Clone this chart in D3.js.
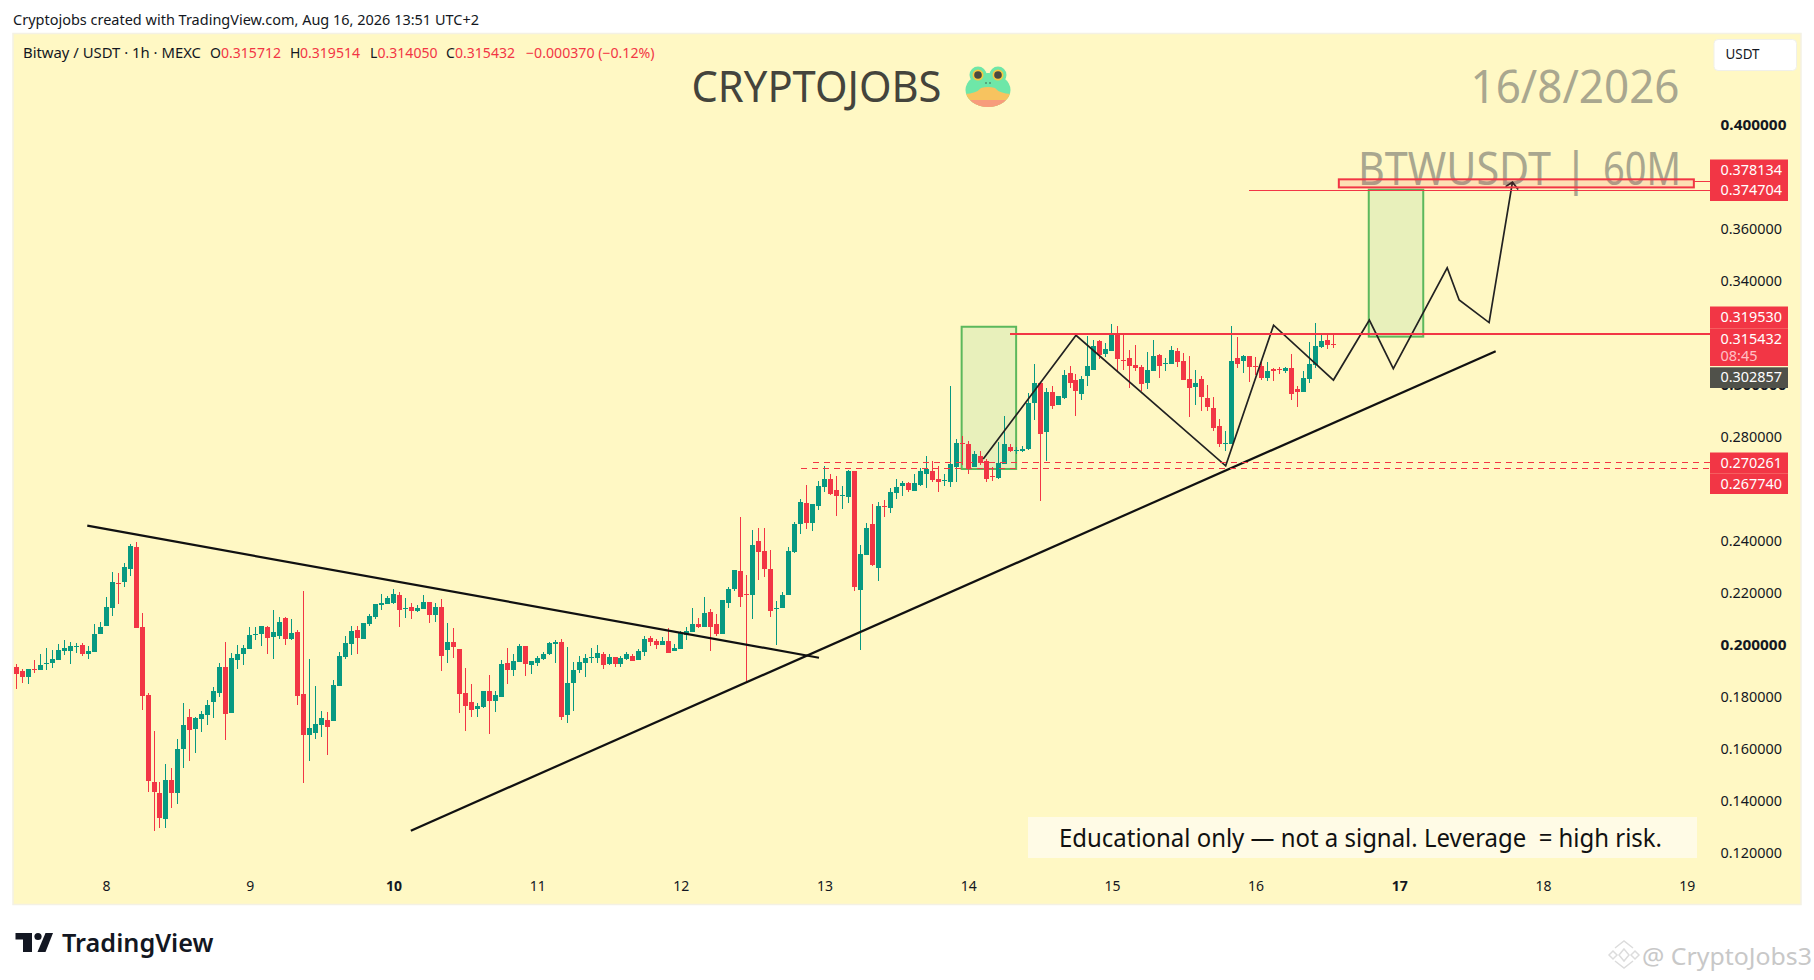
<!DOCTYPE html>
<html>
<head>
<meta charset="utf-8">
<title>BTWUSDT 60M</title>
<script src="https://cdn.jsdelivr.net/npm/d3@7/dist/d3.min.js"></script>
<style>
  html, body { margin: 0; padding: 0; background: #fff; }
  svg { display: block; }
  text { font-family: "Noto Sans", "Lato", sans-serif; }
</style>
</head>
<body>
<div id="chart"></div>
<script>
// hourly candles
var opens = [
  .1916,.1900,.1877,.1908,.1904,.1927,.1931,.1943,.1977,.1977,
  .1993,.2000,.1966,.1973,.2043,.2073,.2143,.2239,.2243,.2293,
  .2377,.2070,.1808,.1473,.1431,.1331,.1481,.1431,.1600,.1723,
  .1677,.1716,.1731,.1781,.1816,.1916,.1739,.1943,.1966,.1985,
  .2039,.2043,.2070,.2031,.2035,.2104,.2023,.2050,.1812,.1654,
  .1662,.1693,.1712,.1708,.1843,.1954,.2004,.2058,.2023,.2081,
  .2108,.2154,.2158,.2162,.2192,.2138,.2146,.2130,.2138,.2165,
  .2115,.2146,.1980,.2011,.1984,.1815,.1780,.1753,.1761,.1823,
  .1784,.1800,.1930,.1903,.1934,.1996,.1923,.1930,.1946,.1965,
  .2003,.2011,.1730,.1853,.1903,.1930,.1950,.1950,.1965,.1927,
  .1953,.1927,.1946,.1957,.1942,.1973,.2027,.2015,.2000,.2015,
  .1977,.1984,.2038,.2050,.2080,.2069,.2127,.2080,.2042,.2162,
  .2215,.2285,.2196,.2192,.2400,.2362,.2292,.2139,.2142,.2192,
  .2358,.2465,.2546,.2469,.2535,.2608,.2639,.2596,.2573,.2569,
  .2669,.2212,.2346,.2465,.2296,.2535,.2527,.2585,.2612,.2623,
  .2592,.2615,.2658,.2669,.2639,.2631,.2627,.2685,.2777,.2774,
  .2685,.2727,.2708,.2651,.2643,.2697,.2762,.2747,.2747,.2754,
  .2931,.3008,.2820,.2974,.2924,.2951,.3047,.3020,.2966,.3035,
  .3058,.3170,.3120,.3131,.3193,.3097,.3104,.3077,.3070,.3008,
  .3054,.3116,.3080,.3081,.3131,.3093,.3024,.2993,.3024,.2951,
  .2912,.2843,.2774,.2774,.3104,.3093,.3112,.3074,.3074,.3027,
  .3062,.3062,.3054,.3066,.2985,.2974,.3024,.3077,.3147,.3174,
  .315712
];
var highs = [
  .1927,.1908,.1908,.1943,.1966,.1989,.1981,.2004,.2020,.2012,
  .2008,.2008,.1996,.2081,.2089,.2185,.2281,.2277,.2316,.2389,
  .2396,.2123,.1816,.1670,.1473,.1543,.1527,.1639,.1777,.1754,
  .1723,.1746,.1789,.1839,.1931,.2012,.1970,.2000,.2000,.2070,
  .2070,.2073,.2073,.2135,.2108,.2108,.2100,.2058,.2208,.1946,
  .1843,.1746,.1743,.1866,.1973,.2035,.2073,.2073,.2085,.2120,
  .2158,.2196,.2189,.2216,.2203,.2180,.2161,.2153,.2192,.2165,
  .2161,.2177,.2084,.2065,.1984,.1911,.1850,.1777,.1823,.1884,
  .1823,.1942,.1988,.1965,.2003,.1996,.1938,.1957,.1973,.2011,
  .2019,.2023,.1992,.1934,.1957,.1965,.1988,.2000,.1973,.1965,
  .1953,.1957,.1973,.1965,.1984,.2034,.2034,.2023,.2030,.2065,
  .2003,.2053,.2069,.2142,.2103,.2184,.2138,.2119,.2173,.2223,
  .2289,.2492,.2269,.2442,.2450,.2450,.2365,.2169,.2204,.2377,
  .2473,.2562,.2615,.2542,.2631,.2689,.2658,.2650,.2612,.2673,
  .2669,.2385,.2469,.2542,.2550,.2558,.2604,.2639,.2631,.2627,
  .2658,.2681,.2727,.2708,.2689,.2658,.2997,.2793,.2804,.2785,
  .2747,.2747,.2716,.2685,.2781,.2881,.2774,.2762,.2766,.2970,
  .3081,.3008,.2989,.2997,.2958,.3058,.3074,.3043,.3035,.3189,
  .3174,.3174,.3162,.3235,.3227,.3193,.3135,.3154,.3077,.3127,
  .3174,.3120,.3104,.3151,.3143,.3124,.3112,.3058,.3035,.3001,
  .2954,.2870,.2824,.3227,.3185,.3116,.3112,.3108,.3093,.3089,
  .3066,.3070,.3070,.3120,.2997,.3054,.3166,.3239,.3197,.3193,
  .319514
];
var lows = [
  .1831,.1854,.1850,.1893,.1904,.1904,.1912,.1943,.1962,.1927,
  .1970,.1958,.1946,.1973,.2043,.2073,.2112,.2158,.2223,.2266,
  .2066,.1750,.1435,.1285,.1296,.1296,.1373,.1389,.1527,.1554,
  .1585,.1666,.1693,.1720,.1800,.1635,.1739,.1908,.1923,.1985,
  .2020,.1996,.1966,.1946,.2023,.2000,.2020,.1770,.1470,.1554,
  .1639,.1646,.1577,.1708,.1843,.1946,.1962,.1966,.2023,.2073,
  .2100,.2135,.2158,.2158,.2069,.2103,.2100,.2127,.2138,.2084,
  .2088,.1900,.1930,.1950,.1738,.1669,.1723,.1723,.1757,.1657,
  .1742,.1800,.1850,.1880,.1934,.1880,.1888,.1919,.1942,.1961,
  .1930,.1711,.1700,.1746,.1892,.1877,.1930,.1930,.1907,.1923,
  .1915,.1915,.1942,.1938,.1942,.1957,.1996,.1984,.2000,.1969,
  .1977,.1984,.2019,.2050,.2065,.2069,.1977,.2034,.2042,.2142,
  .2208,.2146,.1854,.2100,.2250,.2262,.2108,.2000,.2142,.2192,
  .2354,.2427,.2446,.2439,.2519,.2589,.2577,.2496,.2523,.2546,
  .2208,.1981,.2346,.2304,.2246,.2492,.2508,.2562,.2573,.2589,
  .2592,.2612,.2604,.2627,.2589,.2612,.2608,.2627,.2693,.2658,
  .2685,.2693,.2627,.2631,.2639,.2697,.2743,.2735,.2743,.2751,
  .2866,.2554,.2708,.2908,.2924,.2947,.2989,.2881,.2943,.2997,
  .3058,.3101,.3108,.3131,.3054,.3058,.2989,.3054,.2977,.2985,
  .3054,.3027,.3054,.3081,.3070,.3020,.2877,.2924,.2901,.2901,
  .2824,.2762,.2747,.2774,.3066,.3047,.3012,.3039,.3020,.3016,
  .3016,.3043,.3047,.2943,.2916,.2974,.3008,.3066,.3143,.3139,
  .31405
];
var closes = [
  .1889,.1877,.1908,.1904,.1923,.1931,.1946,.1981,.1989,.1996,
  .1996,.1966,.1977,.2043,.2070,.2146,.2243,.2235,.2300,.2381,
  .2066,.1804,.1477,.1435,.1335,.1481,.1431,.1600,.1693,.1673,
  .1720,.1735,.1770,.1823,.1916,.1735,.1950,.1966,.1989,.2039,
  .2043,.2073,.2027,.2050,.2089,.2023,.2046,.1804,.1654,.1681,
  .1696,.1720,.1685,.1846,.1958,.2008,.2054,.2027,.2085,.2112,
  .2158,.2162,.2181,.2196,.2134,.2142,.2130,.2142,.2165,.2115,
  .2146,.1957,.2011,.1992,.1811,.1765,.1750,.1765,.1823,.1784,
  .1807,.1927,.1903,.1938,.1996,.1927,.1938,.1950,.1965,.2007,
  .2011,.1723,.1853,.1903,.1934,.1950,.1953,.1969,.1923,.1953,
  .1927,.1950,.1965,.1938,.1977,.2023,.2011,.2000,.2015,.1969,
  .1988,.2046,.2053,.2080,.2069,.2123,.2069,.2042,.2173,.2215,
  .2289,.2185,.2192,.2385,.2358,.2292,.2131,.2142,.2192,.2362,
  .2465,.2550,.2469,.2542,.2612,.2639,.2581,.2573,.2577,.2669,
  .2223,.2350,.2450,.2308,.2535,.2531,.2589,.2608,.2623,.2596,
  .2623,.2669,.2677,.2635,.2627,.2635,.2697,.2777,.2774,.2681,
  .2735,.2704,.2639,.2647,.2701,.2774,.2747,.2751,.2754,.2931,
  .3008,.2812,.2974,.2920,.2958,.3039,.3008,.2977,.3024,.3074,
  .3151,.3116,.3139,.3193,.3101,.3093,.3074,.3066,.3004,.3058,
  .3112,.3074,.3084,.3135,.3089,.3020,.2989,.3008,.2954,.2916,
  .2835,.2774,.2777,.3093,.3081,.3112,.3070,.3070,.3027,.3054,
  .3054,.3058,.3066,.2966,.2974,.3027,.3081,.3151,.3170,.3154,
  .315432
];

// axis values (.26, .32 and .38 sit fully behind the price tags)
var priceTicks = [.12,.14,.16,.18,.20,.22,.24,.28,.30,.34,.36,.40];
var boldPrices = [.20,.30,.40];
var dayTicks = [15,39,63,87,111,135,159,183,207,231,255,279];
var dayLabels = ["8","9","10","11","12","13","14","15","16","17","18","19"];
var boldDays = ["10","17"];

// drawings: [candle index, price]
var downTrend = [[11.85,.2459],[134.07,.1951]];
var upTrend = [[65.9,.1286],[247.1,.3130]];
var zigzag = [[161.5,.2715],[177,.3191],[202,.2689],[210,.3230],[220,.3019],[226,.3250],[230,.3063],[239,.3451],[241,.3327],[246,.3240],[249.9,.3780]];
var arrowHead = [[248.75,.3763],[249.9,.3780],[250.85,.3752]];
var greenBoxes = [[157.9,167,.3224,.2677],[225.9,235,.3751,.3186]];
var redZone = [220.9,280.2,.3791,.3760];

// horizontal levels: price, first candle index, dashed, line width
var levelPrices = [.374704,.378134,.31953,.270261,.26774];
var levelStarts = [205.9,280.2,165.9,133.1,131.1];
var levelDashed = [false,false,false,true,true];
var levelWidths = [1,1,2,1,1];

var redTagTexts = ["0.378134","0.374704","0.319530","0.270261","0.267740"];

var W = 1814, H = 980;
var green = "#089981", red = "#f23645", panel = "#fff8c4";

var x = d3.scaleLinear().domain([0,280]).range([16.3,1692.66]);
var y = d3.scaleLinear().domain([.12,.40]).range([853,125]);

var svg = d3.select("#chart").append("svg").attr("width",W).attr("height",H);
var line = d3.line().x(function(d){ return x(d[0]); }).y(function(d){ return y(d[1]); });

function label(g, px, py, txt, size, fill, weight, anchor, len) {
  var t = g.append("text").attr("x",px).attr("y",py).attr("dy","0.35em")
    .attr("font-size",size).attr("fill",fill).text(txt);
  if (weight) t.attr("font-weight",weight);
  if (anchor) t.attr("text-anchor",anchor);
  if (len) t.attr("textLength",len).attr("lengthAdjust","spacingAndGlyphs");
  return t;
}

// page
svg.append("rect").attr("width",W).attr("height",H).attr("fill","#fff");
label(svg,13,20,"Cryptojobs created with TradingView.com, Aug 16, 2026 13:51 UTC+2",14,"#131722",null,null,466);
svg.append("rect").attr("x",13).attr("y",33.5).attr("width",1788).attr("height",871)
  .attr("fill",panel).attr("stroke","#f4f1e4").attr("stroke-width",1.5);

// big watermark titles
label(svg,691.5,86.5,"CRYPTOJOBS",43,"#44443c",null,null,250);
label(svg,1470.5,87,"16/8/2026",46,"#a9a78f",null,null,209);
label(svg,1358,169,"BTWUSDT",45,"#a9a78f",null,null,193);
label(svg,1576,169,"|",45,"#a9a78f",null,"middle");
label(svg,1603,169,"60M",45,"#a9a78f",null,null,78);

// frog
var frog = svg.append("g");
var defs = svg.append("defs");
defs.append("clipPath").attr("id","frog-head").append("ellipse")
  .attr("cx",988).attr("cy",90).attr("rx",22.5).attr("ry",17);
[978,998].forEach(function(cx){
  frog.append("circle").attr("cx",cx).attr("cy",75).attr("r",8.5).attr("fill","#6ee7a8");
});
frog.append("ellipse").attr("cx",988).attr("cy",90).attr("rx",22.5).attr("ry",17).attr("fill","#6ee7a8");
frog.append("path").attr("clip-path","url(#frog-head)")
  .attr("d","M964 94 Q976 94 981 88 Q988 86 995 88 Q1000 94 1012 94 L1012 108 L964 108 Z").attr("fill","#f7c35f");
frog.append("rect").attr("clip-path","url(#frog-head)").attr("x",964).attr("y",100).attr("width",48).attr("height",8).attr("fill","#f79c7c");
[978,998].forEach(function(cx){
  frog.append("circle").attr("cx",cx).attr("cy",75).attr("r",5.5).attr("fill","#f5c842");
  frog.append("circle").attr("cx",cx).attr("cy",75).attr("r",3.8).attr("fill","#4a4a40");
});
[986,990].forEach(function(cx){
  frog.append("circle").attr("cx",cx).attr("cy",83).attr("r",0.8).attr("fill","#3d5a48");
});

// green boxes sit under the candles
svg.append("g").selectAll("rect").data(greenBoxes).join("rect")
  .attr("x",function(d){ return x(d[0]); })
  .attr("y",function(d){ return y(d[2]); })
  .attr("width",function(d){ return x(d[1])-x(d[0]); })
  .attr("height",function(d){ return y(d[3])-y(d[2]); })
  .attr("fill","#e8f0bb").attr("stroke","#5cb85c").attr("stroke-width",2);

// candles
var candles = opens.map(function(o,i){ return {i:i,o:o,h:highs[i],l:lows[i],c:closes[i]}; });
var cg = svg.append("g").attr("shape-rendering","crispEdges");
var col = function(d){ return d.c >= d.o ? green : red; };
cg.selectAll("rect.wick").data(candles).join("rect").attr("class","wick")
  .attr("x",function(d){ return Math.floor(x(d.i)); })
  .attr("y",function(d){ return y(d.h); })
  .attr("width",1)
  .attr("height",function(d){ return y(d.l)-y(d.h); })
  .attr("fill",col);
cg.selectAll("rect.body").data(candles).join("rect").attr("class","body")
  .attr("x",function(d){ return Math.floor(x(d.i))-2; })
  .attr("y",function(d){ return Math.min(y(d.o),y(d.c)); })
  .attr("width",5)
  .attr("height",function(d){ return Math.max(1,Math.abs(y(d.o)-y(d.c))); })
  .attr("fill",col);

// trend lines and path
[downTrend,upTrend].forEach(function(pts){
  svg.append("path").attr("d",line(pts)).attr("fill","none").attr("stroke","#111").attr("stroke-width",2.2);
});
svg.append("path").attr("d",line(zigzag)).attr("fill","none").attr("stroke","#222").attr("stroke-width",1.7);
svg.append("path").attr("d",line(arrowHead)).attr("fill","none").attr("stroke","#222").attr("stroke-width",1.7);

// red zone and levels
svg.append("rect").attr("x",x(redZone[0])).attr("y",y(redZone[2]))
  .attr("width",x(redZone[1])-x(redZone[0])).attr("height",y(redZone[3])-y(redZone[2]))
  .attr("fill","rgba(242,54,69,.12)").attr("stroke",red).attr("stroke-width",2);
levelPrices.forEach(function(p,i){
  svg.append("line").attr("x1",x(levelStarts[i])).attr("x2",1710).attr("y1",y(p)).attr("y2",y(p))
    .attr("stroke",red).attr("stroke-width",levelWidths[i]).attr("shape-rendering","crispEdges")
    .attr("stroke-dasharray",levelDashed[i] ? "6,5" : null);
});

// price axis
var yAxis = d3.axisRight(y).tickValues(priceTicks).tickSize(0).tickPadding(0)
  .tickFormat(function(d){ return d.toFixed(6); });
var yg = svg.append("g").attr("transform","translate(1720.5,0)").call(yAxis);
yg.select(".domain").remove();
yg.selectAll("text").attr("font-size",14).attr("fill","#131722")
  .attr("font-weight",function(d){ return boldPrices.indexOf(d) >= 0 ? 700 : 400; })
  .attr("textLength",function(d){ return boldPrices.indexOf(d) >= 0 ? 66 : 61.5; })
  .attr("lengthAdjust","spacingAndGlyphs");

// time axis
var xAxis = d3.axisBottom(x).tickValues(dayTicks).tickSize(0).tickPadding(0)
  .tickFormat(function(d,i){ return dayLabels[i]; });
var xg = svg.append("g").attr("transform","translate(0,881)").call(xAxis);
xg.select(".domain").remove();
xg.selectAll("text").attr("font-size",14).attr("fill","#131722")
  .attr("font-weight",function(d,i){ return boldDays.indexOf(dayLabels[i]) >= 0 ? 700 : 400; });

// tags
var tagY = [159.5,180,306.5,452.5,473.3];
var tagH = [20.5,21,21.8,20.8,20.7];
tagY.forEach(function(ty,i){
  svg.append("rect").attr("x",1710).attr("y",ty).attr("width",78).attr("height",tagH[i]).attr("fill",red);
  label(svg,1720.5,ty+tagH[i]/2,redTagTexts[i],14,"#fff",null,null,61.5);
});
svg.append("rect").attr("x",1710).attr("y",328.3).attr("width",78).attr("height",37.7).attr("fill",red);
label(svg,1720.5,339,"0.315432",14,"#fff",null,null,61.5);
label(svg,1720.5,355.7,"08:45",14,"#ffc0c5",null,null,37);
svg.append("rect").attr("x",1710).attr("y",367.3).attr("width",78).attr("height",20.7).attr("fill","#50514a");
label(svg,1720.5,377.5,"0.302857",14,"#fff",null,null,61.5);

// currency button
svg.append("rect").attr("x",1714).attr("y",39.5).attr("width",82.5).attr("height",31).attr("rx",4)
  .attr("fill","#fff").attr("stroke","#f0f0ea");
label(svg,1725.5,54.5,"USDT",13.5,"#131722",null,null,34);

// legend row
var legendHead = "Bitway / USDT · 1h · MEXC";
var ohlcLetters = ["O","H","L","C"];
var ohlcValues = ["0.315712","0.319514","0.314050","0.315432"];
var ohlcLetterX = [210,290,370,446];
var ohlcValueX = [221,300,377.5,455];
label(svg,23,53,legendHead,14,"#131722",null,null,178);
ohlcLetters.forEach(function(l,i){
  label(svg,ohlcLetterX[i],53,l,14,"#131722");
  label(svg,ohlcValueX[i],53,ohlcValues[i],14,red,null,null,60);
});
label(svg,526,53,"−0.000370 (−0.12%)",14,red,null,null,128.5);

// disclaimer
svg.append("rect").attr("x",1028).attr("y",817).attr("width",669).attr("height",41).attr("fill","#fffbe6");
label(svg,1059,838,"Educational only — not a signal. Leverage  = high risk.",26,"#111",null,null,603).attr("xml:space","preserve");

// TradingView logo
var logo = svg.append("g").attr("fill","#131722");
logo.append("path").attr("d","M15.5 933 H32 V952 H23 V939.5 H15.5 Z");
logo.append("circle").attr("cx",38).attr("cy",936.5).attr("r",3.6);
logo.append("path").attr("d","M45.5 933 H53 L45.5 952 H37.5 Z");
label(svg,62,943,"TradingView",25,"#131722",600,null,151.5);

// repost watermark
var wm = svg.append("g").attr("fill","none").attr("stroke","#dcdcdc").attr("stroke-width",1.5);
wm.append("path").attr("d","M1615 948 L1624 941 L1633 948");
wm.append("path").attr("d","M1615 961 L1624 968 L1633 961");
wm.append("path").attr("d","M1624 949 L1629 955 L1624 961 L1619 955 Z");
wm.append("path").attr("d","M1613 951 L1609 955 L1613 959 L1617 955 Z");
wm.append("path").attr("d","M1635 951 L1639 955 L1635 959 L1631 955 Z");
label(svg,1642,957,"@ CryptoJobs3",24,"#c8c8c8",null,null,170);
</script>
</body>
</html>
